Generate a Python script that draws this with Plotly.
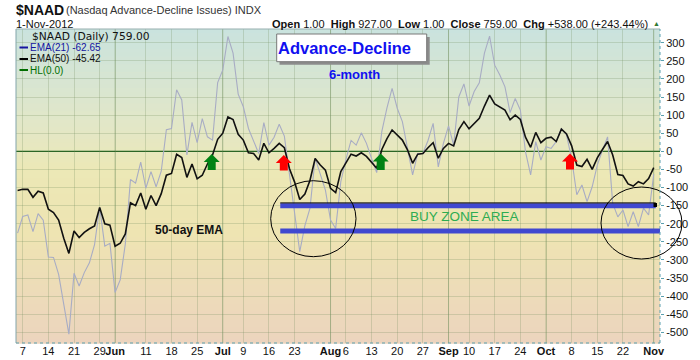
import plotly.graph_objects as go
import pandas as pd

# ---------------- data ----------------
holidays = ["2012-05-28", "2012-07-04", "2012-09-03", "2012-10-29", "2012-10-30"]
trade_dates = [d.strftime("%Y-%m-%d") for d in pd.bdate_range("2012-05-04", "2012-11-01")
               if d.strftime("%Y-%m-%d") not in holidays]

# light grey line (EMA 21)
ema21 = [-226, -180, -176, -222, -172, -190, -292, -293, -340, -420,
         -505, -337, -372, -335, -308, -258, -155, -262, -254, -390,
         -355, -256, -78, -88, -30, -102, -56, -98, -55, 60,
         63, 170, 142, -10, 80, 24, 90, 40, 31, 190,
         225, 317, 271, 158, 123, 63, 31, -6, 79, 17,
         39, 75, 42, -65, -175, -277, -205, -157, -19, -65,
         -107, -190, -213, -84, -22, 30, 17, 51, 22, -20,
         -59, 55, 120, 174, 119, 82, 13, -65, -6, -6,
         30, 77, -43, 22, 70, 17, 150, 186, 125, 165,
         189, 271, 318, 238, 211, 178, 107, 146, 114, -1,
         -65, 27, -24, 13, 8, 27, 63, 45, -20, -120,
         -93, -139, -98, -38, 3, 40, -144, -181, -162, -208,
         -167, -208, -157, -176, -63]

# black line (EMA 50)
ema50 = [-108, -105, -105, -127, -110, -115, -160, -169, -190, -240,
         -282, -220, -238, -224, -214, -206, -155, -200, -204, -262,
         -254, -228, -142, -150, -115, -160, -122, -150, -117, -66,
         -61, -8, -17, -72, -35, -76, -66, -35, -10, 33,
         50, 95, 88, 47, 31, -4, -6, -24, 22, -4,
         8, 22, 10, -48, -85, -133, -118, -80, -20, -38,
         -52, -102, -114, -56, -32, -8, -13, -4, -14, -30,
         -47, 5, 35, 59, 44, 31, 4, -33, -8, -6,
         10, 24, -19, 8, 22, 15, 60, 82, 62, 77,
         91, 125, 155, 131, 123, 114, 87, 100, 88, 39,
         11, 52, 24, 36, 39, 27, 61, 48, 15, -38,
         -42, -22, -50, -18, 5, 27, -10, -64, -67, -90,
         -96, -84, -90, -75, -45]

tick_dates = ["2012-05-07", "2012-05-14", "2012-05-21", "2012-05-29", "2012-06-01",
              "2012-06-11", "2012-06-18", "2012-06-25", "2012-07-02", "2012-07-09",
              "2012-07-16", "2012-07-23", "2012-08-01", "2012-08-06", "2012-08-13",
              "2012-08-20", "2012-08-27", "2012-09-04", "2012-09-10", "2012-09-17",
              "2012-09-24", "2012-10-01", "2012-10-08", "2012-10-15", "2012-10-22",
              "2012-11-01"]
tick_labels = ["7", "14", "21", "29", "Jun", "11", "18", "25", "Jul", "9", "16", "23",
               "Aug", "6", "13", "20", "27", "Sep", "10", "17", "24", "Oct", "8", "15",
               "22", "Nov"]
y_ticks = list(range(-500, 301, 50))
buy_zone = [-150, -220]
hl_level = 0

# ---------------- geometry helpers ----------------
W, H = 700, 360
ML, MR, MT, MB = 16, 40, 29, 17
PW, PH = W - ML - MR, H - MT - MB
def px(x):
    return (x - ML) / PW
def py(y):
    return (H - MB - y) / PH

FONT = "Liberation Sans, Arial, sans-serif"
x = list(range(len(trade_dates)))
pos = {d: i for i, d in enumerate(trade_dates)}
tickvals = [pos[d] for d in tick_dates]
ticktext = [f"<b>{t}</b>" if t.isalpha() else t for t in tick_labels]
xr = [-0.31, 125.22]
yr = [-529.4, 337.8]

fig = go.Figure()
fig.add_trace(go.Scatter(x=x, y=ema21, mode="lines",
                         line=dict(color="rgb(168,172,196)", width=1.1), hoverinfo="skip"))
fig.add_trace(go.Scatter(x=x, y=ema50, mode="lines",
                         line=dict(color="#111111", width=1.6), hoverinfo="skip"))

shapes = []
# gradient background
stops = [(0.0, (202, 227, 222)), (0.3, (226, 231, 200)), (0.45, (236, 232, 182)),
         (0.65, (238, 228, 178)), (1.0, (236, 212, 190))]
def col(t):
    for (t0, c0), (t1, c1) in zip(stops[:-1], stops[1:]):
        if t0 <= t <= t1:
            f = (t - t0) / (t1 - t0)
            return "rgb(%d,%d,%d)" % tuple(round(a + (b - a) * f) for a, b in zip(c0, c1))
    return "rgb(%d,%d,%d)" % stops[-1][1]
N = 80
for i in range(N):
    t0, t1 = i / N, (i + 1) / N
    shapes.append(dict(type="rect", xref="paper", yref="paper", x0=0, x1=1,
                       y0=1 - t1 - 0.002, y1=1 - t0, fillcolor=col((t0 + t1) / 2),
                       line=dict(width=0), layer="below"))
# darker month grid lines
for v, t in zip(tickvals, tick_labels):
    if t.isalpha():
        shapes.append(dict(type="line", xref="x", yref="paper", x0=v, x1=v, y0=0, y1=1,
                           line=dict(color="rgba(120,150,100,0.45)", width=1), layer="between"))
# HL zero line
shapes.append(dict(type="line", xref="paper", yref="y", x0=0, x1=1, y0=hl_level, y1=hl_level,
                   line=dict(color="rgb(20,90,20)", width=1.2), layer="between"))
# buy zone lines
zx0 = 51.2
shapes.append(dict(type="line", xref="x", yref="y", x0=zx0, x1=124.4, y0=buy_zone[0], y1=buy_zone[0],
                   line=dict(color="rgb(64,72,208)", width=5)))
shapes.append(dict(type="line", xref="x", yref="y", x0=zx0, x1=124.4, y0=buy_zone[0] + 7.5,
                   y1=buy_zone[0] + 7.5, line=dict(color="black", width=1)))
shapes.append(dict(type="rect", xref="paper", yref="paper", x0=px(653.5), x1=px(657),
                   y0=py(207), y1=py(203), fillcolor="black", line=dict(width=0)))
shapes.append(dict(type="line", xref="x", yref="y", x0=zx0, x1=xr[1], y0=buy_zone[1], y1=buy_zone[1],
                   line=dict(color="rgb(64,72,208)", width=5)))
# ellipses
shapes.append(dict(type="circle", xref="paper", yref="paper", x0=px(270.7), x1=px(356),
                   y0=py(256.7), y1=py(180.7), line=dict(color="black", width=1)))
shapes.append(dict(type="circle", xref="paper", yref="paper", x0=px(601), x1=px(682),
                   y0=py(259), y1=py(187), line=dict(color="black", width=1)))
# arrows
def arrow(cx, tip, bottom, color):
    pts = [(cx, tip), (cx + 8, tip + 8), (cx + 4, tip + 8), (cx + 4, bottom), (cx - 4, bottom),
           (cx - 4, tip + 8), (cx - 8, tip + 8)]
    path = "M " + " L ".join(f"{px(a):.5f},{py(b):.5f}" for a, b in pts) + " Z"
    return dict(type="path", xref="paper", yref="paper", path=path, fillcolor=color,
                line=dict(width=0))
shapes.append(arrow(211.7, 154, 170, "rgb(0,130,20)"))
shapes.append(arrow(283.8, 155, 170.5, "rgb(255,0,0)"))
shapes.append(arrow(380.7, 153.5, 170, "rgb(0,130,20)"))
shapes.append(arrow(570, 153.5, 169.5, "rgb(255,0,0)"))
# title box + shadow
shapes.append(dict(type="rect", xref="paper", yref="paper", x0=px(279.5), x1=px(429.7),
                   y0=py(64.7), y1=py(37), fillcolor="rgb(140,140,140)", line=dict(width=0)))
shapes.append(dict(type="rect", xref="paper", yref="paper", x0=px(276.7), x1=px(426.7),
                   y0=py(61.7), y1=py(34), fillcolor="white",
                   line=dict(color="rgb(120,120,120)", width=1)))
# legend dashes
for yy, c in [(47.5, "rgb(20,20,160)"), (59, "black"), (70, "rgb(0,110,0)")]:
    shapes.append(dict(type="line", xref="paper", yref="paper", x0=px(19.5), x1=px(28),
                       y0=py(yy), y1=py(yy), line=dict(color=c, width=2)))
# borders
shapes.append(dict(type="line", xref="paper", yref="paper", x0=0, x1=0, y0=0, y1=1,
                   line=dict(color="rgb(130,165,170)", width=1)))
shapes.append(dict(type="line", xref="paper", yref="paper", x0=0, x1=1, y0=1, y1=1,
                   line=dict(color="rgb(150,175,175)", width=1)))
shapes.append(dict(type="line", xref="paper", yref="paper", x0=1, x1=1, y0=0, y1=1,
                   line=dict(color="rgb(90,160,175)", width=1, dash="dot")))
shapes.append(dict(type="line", xref="paper", yref="paper", x0=0, x1=1, y0=0, y1=0,
                   line=dict(color="rgb(90,160,175)", width=1, dash="dot")))

ann = []
def text(xp, yp, s, size=11, color="#222", anchor="left", family=FONT):
    ann.append(dict(x=px(xp), y=py(yp), xref="paper", yref="paper", text=s, showarrow=False,
                    xanchor=anchor, yanchor="middle", font=dict(size=size, color=color, family=family)))
text(14, 10, "<b>$NAAD</b>", 14, "#111")
text(63.5, 10.5, "(Nasdaq Advance-Decline Issues) INDX", 11, "#333")
text(14, 23.5, "1-Nov-2012", 11, "#111")
sp = "\u00a0"
text(650, 23.5, f"<b>Open</b> 1.00{sp}{sp}<b>High</b> 927.00{sp}{sp}<b>Low</b> 1.00{sp}{sp}<b>Close</b> 759.00{sp}{sp}"
               f"<b>Chg</b> +538.00 (+243.44%)", 11, "#111", "right")
text(656, 24, "▲", 7, "rgb(50,120,50)", "center")
text(30, 36, "$NAAD (Daily) 759.00", 10.7, "#111", family="DejaVu Sans, sans-serif")
text(27.5, 47.5, "EMA(21) -62.65", 10, "rgb(20,20,160)")
text(27.5, 59, "EMA(50) -45.42", 10, "#111")
text(27.5, 70, "HL(0.0)", 10, "rgb(0,110,0)")
text(344, 48, "<b>Advance-Decline</b>", 16.5, "rgb(16,16,240)", "center")
text(354, 74, "<b>6-month</b>", 13, "rgb(16,16,240)", "center")
text(188.5, 230, "<b>50-day EMA</b>", 12, "#111", "center")
text(464.5, 216, "BUY ZONE AREA", 13.5, "rgb(45,172,82)", "center")

fig.update_layout(
    width=W, height=H, margin=dict(l=ML, r=MR, t=MT, b=MB, autoexpand=False),
    paper_bgcolor="white", plot_bgcolor="rgb(236,230,190)", showlegend=False,
    shapes=shapes, annotations=ann,
    xaxis=dict(range=xr, tickvals=tickvals, ticktext=ticktext, showgrid=True, tickangle=0,
               automargin=False,
               gridcolor="rgba(110,140,90,0.25)", gridwidth=1, zeroline=False, showline=False,
               ticks="", tickfont=dict(size=11, color="#111", family=FONT), fixedrange=True),
    yaxis=dict(range=yr, side="right", tickvals=y_ticks, ticktext=[str(v) for v in y_ticks],
               showgrid=True, automargin=False,
               gridcolor="rgba(110,140,90,0.25)", gridwidth=1, zeroline=False, showline=False,
               ticks="outside", ticklen=3, tickcolor="rgb(90,160,175)",
               tickfont=dict(size=11, color="#111", family=FONT), fixedrange=True),
)
fig.write_html("out.html", config={"displayModeBar": False},
               post_script="document.body.style.margin='0';document.body.style.overflow='hidden';")
